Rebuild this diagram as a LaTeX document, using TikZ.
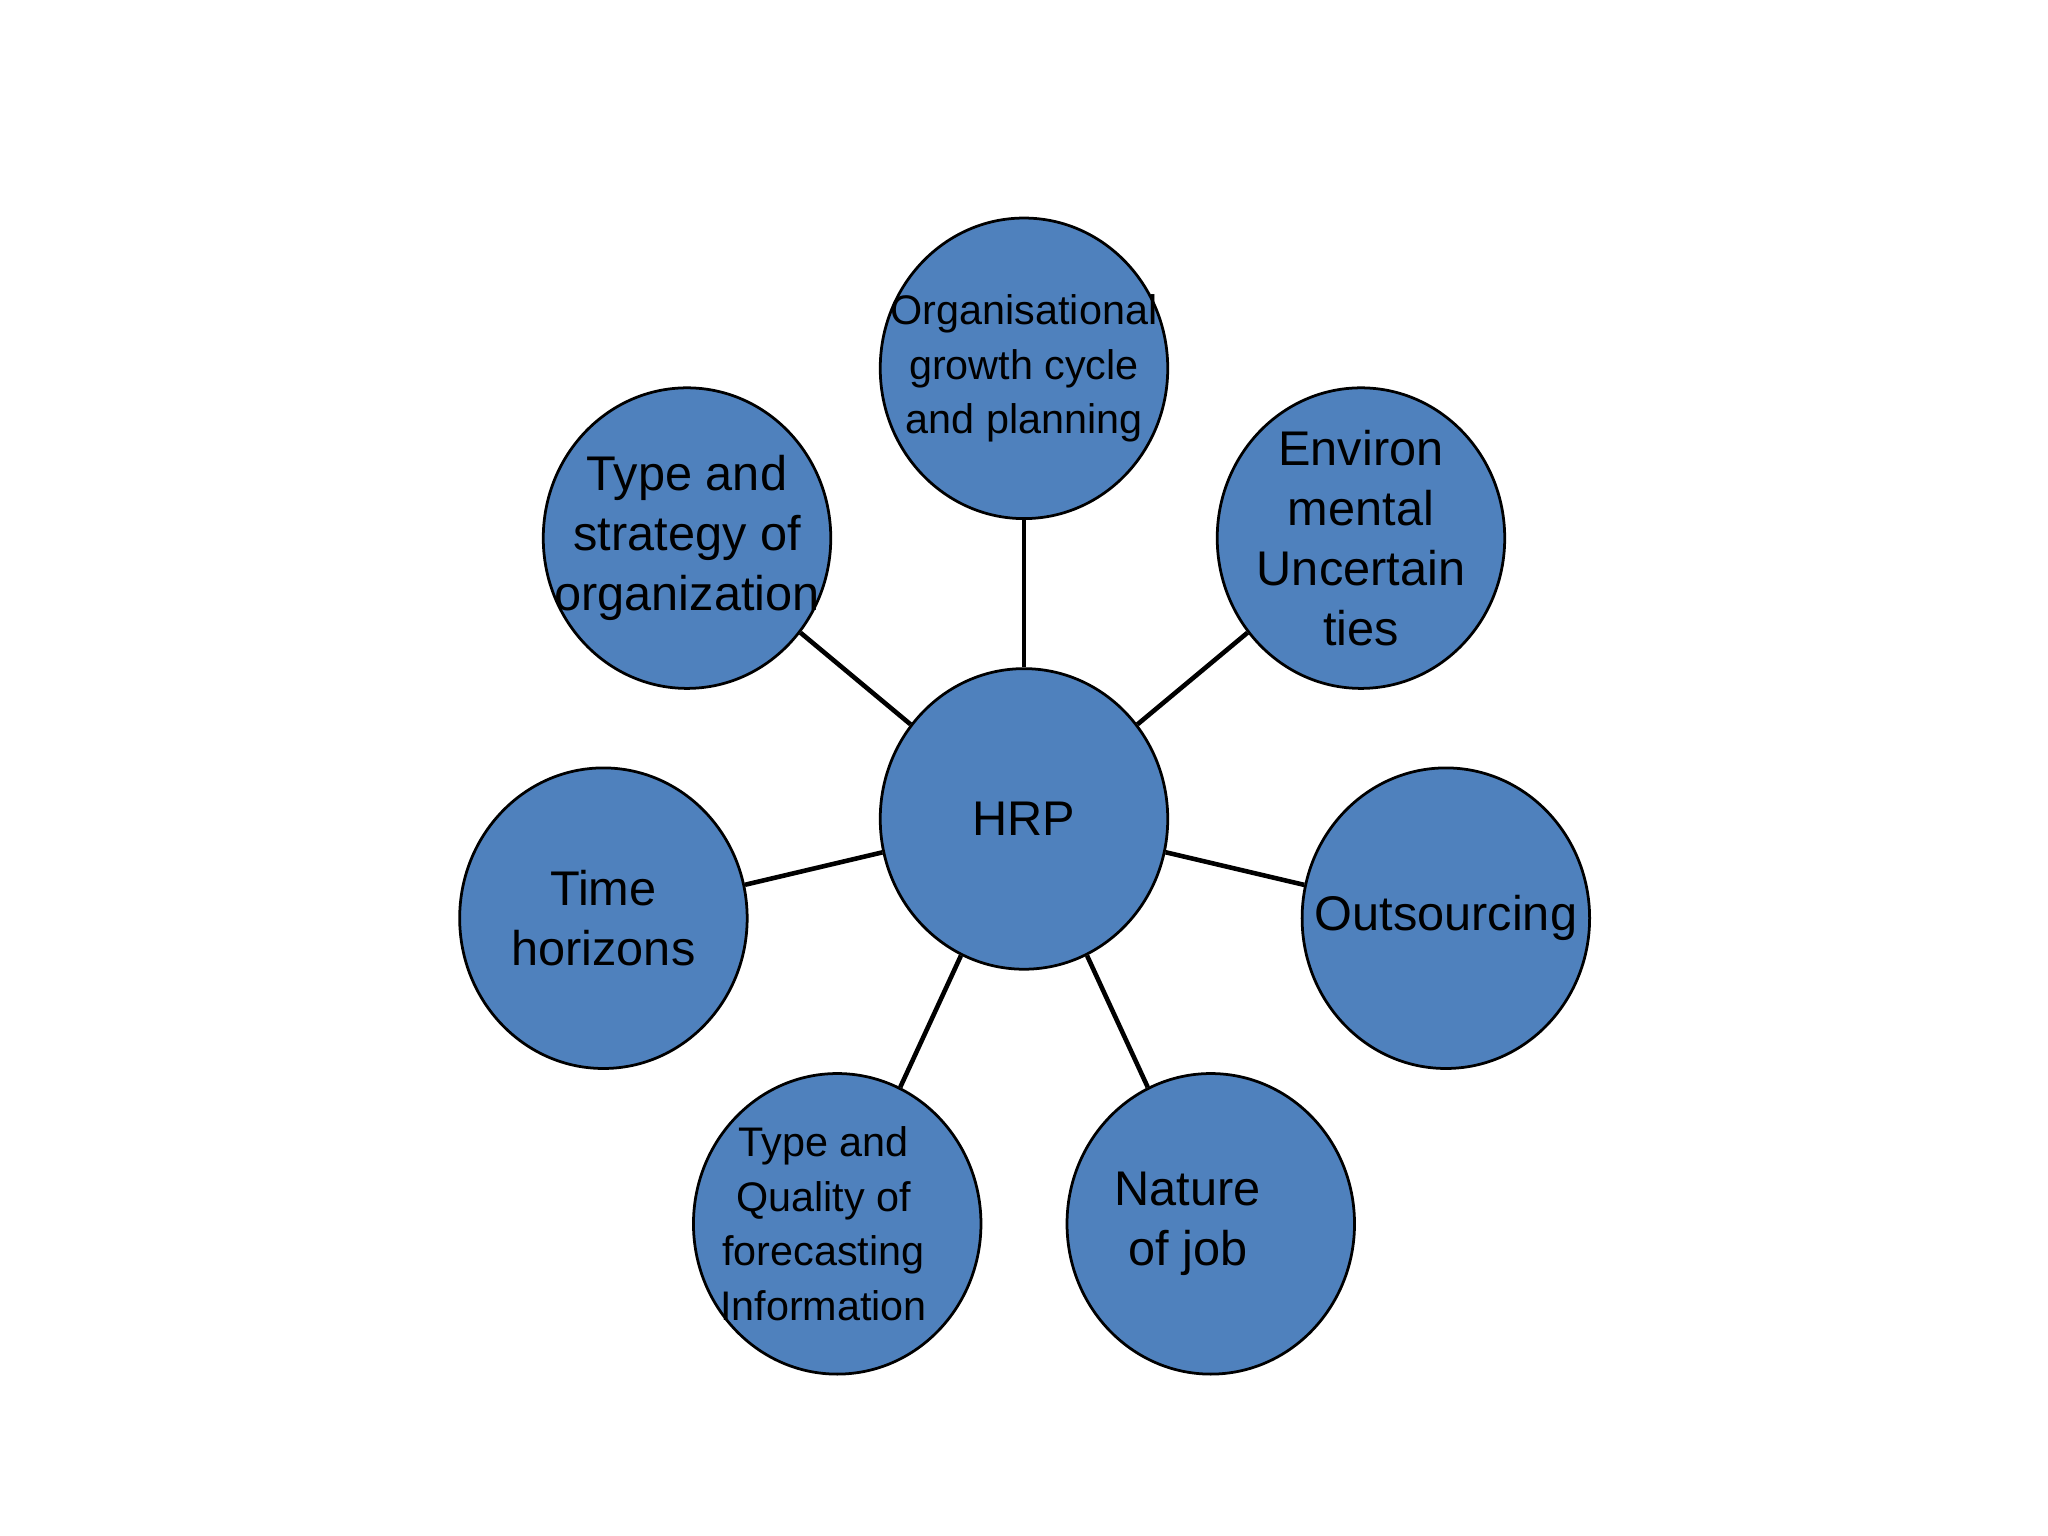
\documentclass[tikz,border=0pt]{standalone}
\usepackage{fontspec}
\setmainfont{Liberation Sans}
\usetikzlibrary{shapes.geometric}
\begin{document}
\begin{tikzpicture}[x=0.01cm,y=-0.01cm,
  bub/.style={ellipse,draw=black,line width=0.6pt,fill=bubfill,minimum width=2.2cm,minimum height=2.3cm,inner sep=0pt},
  txt/.style={align=center,inner sep=0pt,font=\fontsize{10.6pt}{13pt}\selectfont},
  small/.style={font=\fontsize{9pt}{11.9pt}\selectfont},
  link/.style={line width=1pt}]
\definecolor{bubfill}{HTML}{4F81BD}
\useasboundingbox (0,0) rectangle (1568,1176);
\node[bub] (hrp) at (784,627) {};
\node[bub] (org) at (784,282) {};
\node[bub] (env) at (1042,412) {};
\node[bub] (out) at (1107,703) {};
\node[bub] (nat) at (927,937) {};
\node[bub] (fore) at (641,937) {};
\node[bub] (time) at (462,703) {};
\node[bub] (strat) at (526,412) {};
\foreach \n in {org,env,out,nat,fore,time,strat} \draw[link] (hrp) -- (\n);
\node[txt] (thrp) at (hrp) {HRP};
\node[txt,small] (torg) at (org) {Organisational\\growth cycle\\and planning};
\node[txt] (tenv) at (env) {Environ\\mental\\Uncertain\\ties};
\node[txt] (tout) at (out) {Outsourcing};
\node[txt] (tnat) at ([xshift=-5]nat) {Nature\\of job};
\node[txt,small] (tfore) at ([xshift=-3]fore) {Type and\\Quality of\\forecasting\\Information};
\node[txt] (ttime) at (time) {Time\\horizons};
\node[txt] (tstrat) at (strat) {Type and\\strategy of\\organization};
\end{tikzpicture}
\end{document}
